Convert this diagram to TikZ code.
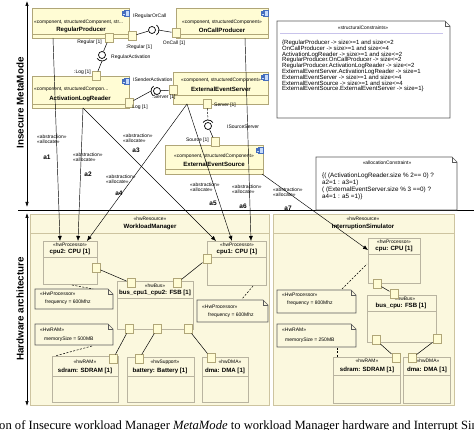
\documentclass[tikz,border=0pt]{standalone}
\usepackage{fontspec}
\setmainfont{Liberation Sans}
\newfontfamily\capfont{Liberation Serif}
\usetikzlibrary{arrows.meta}
\definecolor{compfill}{RGB}{255,252,212}
\definecolor{compborder}{RGB}{176,166,120}
\definecolor{framefill}{RGB}{251,248,222}
\definecolor{frameborder}{RGB}{205,196,160}
\definecolor{partborder}{RGB}{185,180,160}
\definecolor{notegray}{RGB}{90,90,90}
\definecolor{iconblue}{RGB}{70,110,190}
\definecolor{iconfill}{RGB}{200,220,250}
\definecolor{purpleline}{RGB}{200,195,235}
\tikzset{
 comp/.style={draw=compborder, fill=compfill, line width=0.5pt, inner sep=0, anchor=north west},
 hwframe/.style={draw=frameborder, fill=framefill, line width=0.6pt, inner sep=0, anchor=north west},
 part/.style={draw=partborder, line width=0.5pt, inner sep=0, anchor=north west},
 port/.style={draw=compborder, fill=compfill, line width=0.5pt, minimum size=8.5pt, inner sep=0},
 cline/.style={draw=compborder, line width=0.5pt},
 pline/.style={draw=partborder, line width=0.5pt},
 st/.style={font=\fontsize{4.9}{5.2}\selectfont, inner sep=0},
 nm/.style={font=\bfseries\fontsize{6.1}{6.2}\selectfont, inner sep=0},
 lbl/.style={font=\fontsize{5}{5}\selectfont, inner sep=0},
 albl/.style={font=\bfseries\fontsize{6.5}{6.5}\selectfont, inner sep=0},
 axislbl/.style={font=\bfseries\fontsize{9.8}{9.8}\selectfont, inner sep=0},
 alloc/.style={-{Latex[length=5pt,width=4pt]}, line width=0.45pt},
 axisarr/.style={{Latex[length=5pt,width=3.5pt]}-{Latex[length=5pt,width=3.5pt]}, line width=0.6pt},
 conn/.style={line width=0.5pt},
 dep/.style={dash pattern=on 2pt off 1.5pt, line width=0.5pt},
 ball/.style={circle, draw, minimum size=7pt, inner sep=0, line width=0.7pt},
 sock/.style={line width=0.7pt},
 notebox/.style={draw=notegray, line width=0.6pt},
 ntext/.style={font=\fontsize{6}{5.8}\selectfont, inner sep=0, align=left, anchor=north west},
}
\newcommand\unote[5]{%
 \draw[notebox, fill=#5] (#1,#2) -- ({#3-5},#2) -- (#3,{#2+5}) -- (#3,#4) -- (#1,#4) -- cycle;
 \draw[notebox] ({#3-5},#2) -- ({#3-5},{#2+5}) -- (#3,{#2+5});}
\newcommand\cicon[2]{%
 \draw[iconblue, fill=iconfill, line width=0.4pt] ({#1-5},#2) rectangle (#1,{#2+6});
 \draw[iconblue, fill=iconfill, line width=0.4pt] ({#1-6.5},{#2+1}) rectangle ({#1-3.5},{#2+2.5});
 \draw[iconblue, fill=iconfill, line width=0.4pt] ({#1-6.5},{#2+3.5}) rectangle ({#1-3.5},{#2+5});}
\begin{document}
\begin{tikzpicture}[x=1pt,y=-1pt]
\useasboundingbox (0,0) rectangle (474,430);
\clip (0,0) rectangle (474,430);
\fill[white] (0,0) rectangle (474,430);
% ---------- axes ----------
\coordinate (ax1t) at (27,1); \coordinate (ax1b) at (27,207);
\coordinate (ax2t) at (27,213); \coordinate (ax2b) at (27,406);
\draw[axisarr] (ax1t) -- (ax1b);
\draw[axisarr] (ax2t) -- (ax2b);
\coordinate (sepL) at (18,210); \coordinate (sepR) at (474,210);
\draw[line width=0.7pt] (sepL) -- (sepR);
\node[axislbl, rotate=90] (lblA) at (20,103) {Insecure MetaMode};
\node[axislbl, rotate=90] (lblB) at (20,309) {Hardware architecture};
% ---------- hardware frames ----------
\node[hwframe, minimum width=239, minimum height=191] (wm) at (30,214) {};
\node[st] (wmS) at (150,219) {«hwResource»};
\node[nm] (wmN) at (150,227) {WorkloadManager};
\draw[draw=frameborder, line width=0.6pt] (30,233) -- (269,233);
\node[hwframe, minimum width=181, minimum height=191] (is) at (273,214) {};
\node[st] (isS) at (363,219) {«hwResource»};
\node[nm] (isN) at (363,227) {InterruptionSimulator};
\draw[draw=frameborder, line width=0.6pt] (273,233) -- (454,233);
% parts in WorkloadManager
\node[part, minimum width=54, minimum height=43] (cpu2) at (43,241) {};
\node[st] at (70,245) {«hwProcessor»};
\node[nm] at (70,252) {cpu2: CPU [1]};
\draw[pline] (43,257) -- (97,257);
\node[part, minimum width=59, minimum height=44] (cpu1) at (207,241) {};
\node[st] at (237,245) {«hwProcessor»};
\node[nm] at (237,252) {cpu1: CPU [1]};
\draw[pline] (207,257) -- (266,257);
\node[part, minimum width=76, minimum height=48] (bus) at (117,281) {};
\node[st] at (155,286) {«hwBus»};
\node[nm] at (155,293) {bus\_cpu1\_cpu2: FSB [1]};
\draw[pline] (117,298) -- (193,298);
\node[part, minimum width=66, minimum height=46] (sdram) at (52,356) {};
\node[st] at (85,362) {«hwRAM»};
\node[nm] at (85,371) {sdram: SDRAM [1]};
\draw[pline] (52,376) -- (118,376);
\node[part, minimum width=67, minimum height=45] (batt) at (127,357) {};
\node[st] at (165,362) {«hwSupport»};
\node[nm] at (160,371) {battery: Battery [1]};
\draw[pline] (127,376) -- (194,376);
\node[part, minimum width=46, minimum height=45] (dma) at (202,357) {};
\node[st] at (230,362) {«hwDMA»};
\node[nm] at (225,371) {dma: DMA [1]};
\draw[pline] (202,376) -- (248,376);
% ports WM
\node[port] (pc2) at (96,268) {};
\node[port] (pc1) at (207,259) {};
\node[port] (pb1) at (131,283) {};
\node[port] (pb2) at (177,283) {};
\node[port] (pb3) at (129,329) {};
\node[port] (pb4) at (157,329) {};
\node[port] (pb5) at (188,329) {};
\node[port] (psd) at (113,359) {};
\node[port] (pbt) at (139,359) {};
\node[port] (pdm) at (211,358) {};
\draw[conn] (pc2) -- (pb1);
\draw[conn] (pc1) -- (pb2);
\draw[conn] (pb3) -- (psd);
\draw[conn] (pb4) -- (pbt);
\draw[conn] (pb5) -- (pdm);
% notes WM
\unote{35}{289}{113}{309}{framefill}
\node[lbl, anchor=west] (n1a) at (40,294) {«HwProcessor»};
\node[lbl, anchor=west] (n1b) at (45,302) {frequency = 600Mhz};
\unote{35}{324}{113}{345}{framefill}
\node[lbl, anchor=west] (n2a) at (40,330) {«HwRAM»};
\node[lbl, anchor=west] (n2b) at (44,339) {memorySize = 500MB};
\unote{197}{300}{268}{322}{framefill}
\node[lbl, anchor=west] (n3a) at (202,307) {«HwProcessor»};
\node[lbl, anchor=west] (n3b) at (208,315) {frequency = 600Mhz};
\coordinate (d1a) at (72,285); \coordinate (d1b) at (93,289);
\draw[dep] (d1a) -- (d1b);
\coordinate (d2a) at (92,346); \coordinate (d2b) at (55,356);
\draw[dep] (d2a) -- (d2b);
\coordinate (d3a) at (253,286); \coordinate (d3b) at (242,299);
\draw[dep] (d3a) -- (d3b);
% parts in InterruptionSimulator
\node[part, minimum width=52, minimum height=45] (cpu) at (368,238) {};
\node[st] at (394,242) {«hwProcessor»};
\node[nm] at (394,249) {cpu: CPU [1]};
\draw[pline] (368,254) -- (420,254);
\node[part, minimum width=69, minimum height=47] (busb) at (367,295) {};
\node[st] at (405,299) {«hwBus»};
\node[nm] at (401,306) {bus\_cpu: FSB [1]};
\draw[pline] (367,311) -- (436,311);
\node[part, minimum width=67, minimum height=46] (sdram2) at (333,357) {};
\node[st] at (367,361) {«hwRAM»};
\node[nm] at (367,370) {sdram: SDRAM [1]};
\draw[pline] (333,375) -- (400,375);
\node[part, minimum width=47, minimum height=46] (dma2) at (403,357) {};
\node[st] at (428,361) {«hwDMA»};
\node[nm] at (427,370) {dma: DMA [1]};
\draw[pline] (403,375) -- (450,375);
\node[port] (qc) at (377,284) {};
\node[port] (qb1) at (394,294) {};
\node[port] (qb2) at (376,340) {};
\node[port] (qb3) at (437,339) {};
\node[port] (qsd) at (396,358) {};
\node[port] (qdm) at (412,358) {};
\draw[conn] (qc) -- (qb1);
\draw[conn] (qb2) -- (qsd);
\draw[conn] (qb3) -- (qdm);
\unote{277}{290}{356}{313}{framefill}
\node[lbl, anchor=west] (n4a) at (282,295) {«HwProcessor»};
\node[lbl, anchor=west] (n4b) at (287,303) {frequency = 800Mhz};
\unote{277}{324}{356}{347}{framefill}
\node[lbl, anchor=west] (n5a) at (282,330) {«HwRAM»};
\node[lbl, anchor=west] (n5b) at (285,340) {memorySize = 250MB};
\coordinate (d4a) at (342,289); \coordinate (d4b) at (367,264);
\draw[dep] (d4a) -- (d4b);
\coordinate (d5a) at (337,348); \coordinate (d5b) at (337,357);
\draw[dep] (d5a) -- (d5b);
% ---------- software components ----------
\node[comp, minimum width=97, minimum height=30] (rp) at (32,8) {};
\node[st, anchor=west] (rpS) at (34,22) {«component, structuredComponent, str...};
\node[nm] (rpN) at (81,30) {RegularProducer};
\draw[cline] (32,34) -- (129,34);
\cicon{129}{10}
\node[comp, minimum width=92, minimum height=30] (ocp) at (176,8) {};
\node[st] (ocpS) at (222,22) {«component, structuredComponent»};
\node[nm] (ocpN) at (222,30) {OnCallProducer};
\draw[cline] (176,34) -- (268,34);
\cicon{268}{10}
\node[comp, minimum width=97, minimum height=32] (alr) at (32,76) {};
\node[st, anchor=west] (alrS) at (34,89) {«component, structuredCompon...};
\node[nm] (alrN) at (80,99) {ActivationLogReader};
\draw[cline] (32,104) -- (129,104);
\cicon{129}{78}
\node[comp, minimum width=95, minimum height=32] (ees) at (173,72) {};
\node[st] (eesS) at (221,80) {«component, structuredComponent»};
\node[nm] (eesN) at (221,89) {ExternalEventServer};
\draw[cline] (173,95) -- (268,95);
\cicon{268}{74}
\node[comp, minimum width=98, minimum height=29] (eso) at (165,145) {};
\node[st] (esoS) at (214,156) {«component, structuredComponent»};
\node[nm] (esoN) at (214,164) {ExternalEventSource};
\draw[cline] (165,169) -- (263,169);
\cicon{263}{147}
% ports
\node[port] (prg) at (109,38) {};
\node[lbl, anchor=east] (prgL) at (102,42) {Regular [1]};
\node[port] (prr) at (132,36) {};
\node[lbl] (prrL) at (139,47) {:Regular [1]};
\node[port] (poc) at (176,33) {};
\node[lbl] (pocL) at (174,43) {OnCall [1]};
\node[port] (plg) at (96,76) {};
\node[lbl, anchor=east] (plgL) at (91,72) {:Log [1]};
\node[port] (plr) at (129,103) {};
\node[lbl] (plrL) at (140,107) {Log [1]};
\node[port] (pel) at (173,90) {};
\node[lbl] (pelL) at (164,97) {:Server [1]};
\node[port] (peb) at (207,104) {};
\node[lbl, anchor=west] (pebL) at (214,105) {Server [1]};
\node[port] (pso) at (215,142) {};
\node[lbl, anchor=east] (psoL) at (209,140) {Source [1]};
% interfaces
\node[lbl, anchor=west] (iA) at (133,16) {IRegularOrCall};
\node[ball] (ballA) at (152,30) {};
\draw[sock] (156.44,34.91) arc[start angle=-55, end angle=55, x radius=6pt, y radius=6pt];
\coordinate (sockA) at (158,30);
\draw[conn] (prr) -- (ballA);
\draw[conn] (sockA) -- (poc);
\node[lbl, anchor=west] (iB) at (111,57) {RegularActivation};
\node[ball] (ballB) at (102,55) {};
\draw[sock] (97.09,58.44) arc[start angle=215, end angle=325, x radius=6pt, y radius=6pt];
\coordinate (sockB) at (102,61);
\draw[conn] (prg) -- (ballB);
\draw[conn] (sockB) -- (plg);
\node[lbl, anchor=west] (iC) at (133,80) {ISenderActivation};
\node[ball] (ballC) at (157,91) {};
\draw[sock] (153.56,86.09) arc[start angle=125, end angle=235, x radius=6pt, y radius=6pt];
\coordinate (sockC) at (151,91);
\draw[conn] (plr) -- (sockC);
\draw[conn] (ballC) -- (pel);
\node[lbl, anchor=west] (iD) at (227,127) {ISourceServer};
\node[ball] (ballD) at (208,126) {};
\draw[sock] (212.91,122.56) arc[start angle=35, end angle=145, x radius=6pt, y radius=6pt];
\coordinate (sockD) at (208,120);
\draw[dep] (peb) -- (sockD);
\draw[conn] (ballD) -- (pso);
% ---------- constraint notes ----------
\unote{277}{21}{450}{118}{white}
\node[st] (scT) at (363,28) {«structuralConstraints»};
\draw[purpleline, line width=0.8pt] (280,33) -- (443,33);
\node[ntext] (scB) at (282,40) {\{RegularProducer -> size>=1 and size<=2\\
OnCallProducer -> size>=1 and size<=4\\
ActivationLogReader -> size>=1 and size<=2\\
RegularProducer.OnCallProducer -> size<=2\\
RegularProducer.ActivationLogReader -> size<=2\\
ExternalEventServer.ActivationLogReader -> size=1\\
ExternalEventServer -> size>=1 and size<=4\\
ExternalEventSource -> size>=1 and size<=4\\
ExternalEventSource.ExternalEventServer -> size=1\}};
\unote{316}{157}{457}{210}{white}
\node[st] (acT) at (387,163) {«allocationConstraint»};
\node[ntext, font=\fontsize{6.3}{7}\selectfont] (acB) at (322,173) {\{( (ActivationLogReader.size \% 2== 0) ?\\
a2=1 : a3=1)\\
( (ExternalEventServer.size \% 3 ==0) ?\\
a4=1 : a5 =1)\}};
% ---------- allocations ----------
\coordinate (s1) at (53,38);  \coordinate (e1) at (60,241);
\coordinate (s2) at (83,108); \coordinate (e2) at (78,241);
\coordinate (e3) at (216,241);
\coordinate (s4) at (187,104); \coordinate (e4) at (87,241);
\coordinate (e5) at (232,241);
\coordinate (s6) at (245,38); \coordinate (e6) at (251,241);
\coordinate (s7) at (262,174); \coordinate (e7) at (368,250);
\draw[alloc] (s1) -- (e1);
\draw[alloc] (s2) -- (e2);
\draw[alloc] (s2) -- (e3);
\draw[alloc] (s4) -- (e4);
\draw[alloc] (s4) -- (e5);
\draw[alloc] (s6) -- (e6);
\draw[alloc] (s7) -- (e7);
\node[st, anchor=west, align=left] (l1) at (37,139) {«abstraction»\\«allocate»};
\node[albl] (a1) at (47,157) {a1};
\node[st, anchor=west, align=left] (l2) at (73,157) {«abstraction»\\«allocate»};
\node[albl] (a2) at (88,174) {a2};
\node[st, anchor=west, align=left] (l3) at (123,138) {«abstraction»\\«allocate»};
\node[albl] (a3) at (136,150) {a3};
\node[st, anchor=west, align=left] (l4) at (106,179) {«abstraction»\\«allocate»};
\node[albl] (a4) at (119,193) {a4};
\node[st, anchor=west, align=left] (l5) at (190,187) {«abstraction»\\«allocate»};
\node[albl] (a5) at (213,203) {a5};
\node[st, anchor=west, align=left] (l6) at (232,189) {«abstraction»\\«allocate»};
\node[albl] (a6) at (243,206) {a6};
\node[st, anchor=west, align=left] (l7) at (273,192) {«abstraction»\\«allocate»};
\node[albl] (a7) at (288,208) {a7};
% ---------- caption ----------
\node[anchor=base west, inner sep=0, font=\capfont\fontsize{12.6}{12.6}\selectfont] (cap) at (-8,429) {tion of Insecure workload Manager \textit{MetaMode} to workload Manager hardware and Interrupt Simulator};
\end{tikzpicture}
\end{document}
